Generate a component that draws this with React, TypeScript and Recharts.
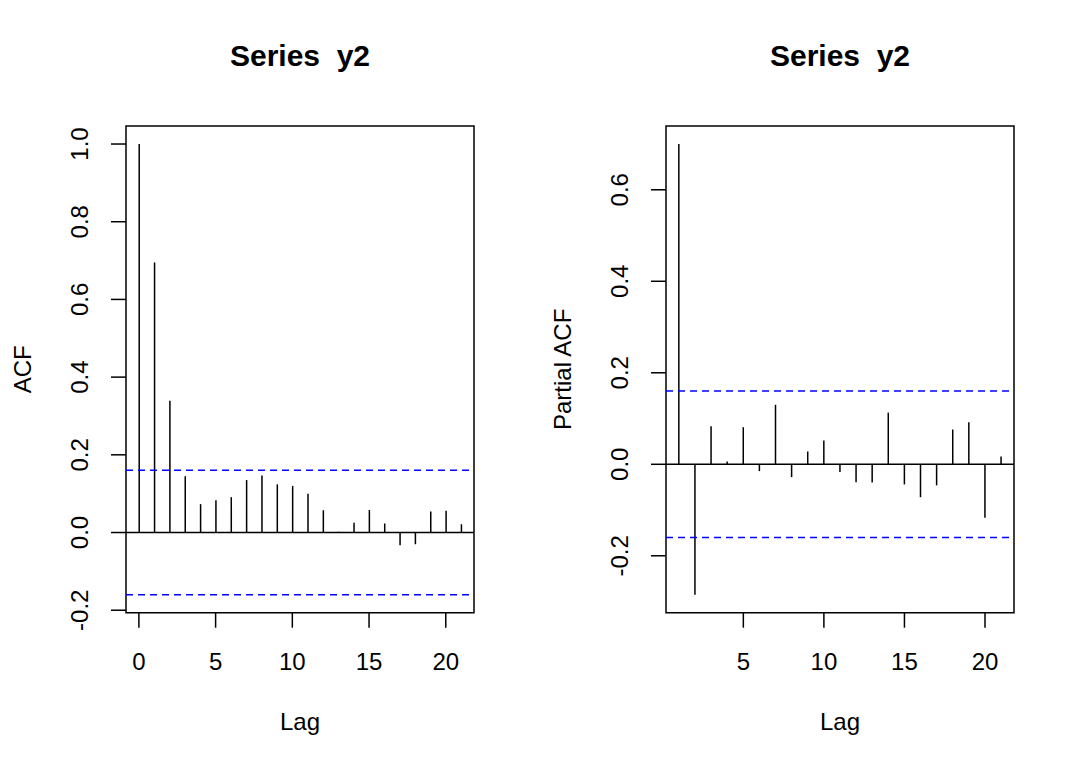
import React from 'react';
import {
  ComposedChart,
  Bar,
  XAxis,
  YAxis,
  ReferenceLine,
  ReferenceArea,
  Label,
} from 'recharts';

// ---------- data ----------
const ACF_LAGS = [0, 1, 2, 3, 4, 5, 6, 7, 8, 9, 10, 11, 12, 13, 14, 15, 16, 17, 18, 19, 20, 21];
const ACF_VALUES = [
  1.0, 0.695, 0.339, 0.145, 0.073, 0.083, 0.091, 0.135, 0.147, 0.124, 0.12, 0.1, 0.057, 0.002,
  0.025, 0.058, 0.023, -0.033, -0.03, 0.054, 0.056, 0.021,
];
const PACF_LAGS = [1, 2, 3, 4, 5, 6, 7, 8, 9, 10, 11, 12, 13, 14, 15, 16, 17, 18, 19, 20, 21];
const PACF_VALUES = [
  0.7, -0.285, 0.083, 0.006, 0.081, -0.015, 0.13, -0.028, 0.028, 0.052, -0.017, -0.039, -0.04,
  0.113, -0.044, -0.072, -0.046, 0.076, 0.092, -0.117, 0.017,
];
const CONF_LIMIT = 0.16;

const ACF_X_TICKS = [0, 5, 10, 15, 20];
const PACF_X_TICKS = [5, 10, 15, 20];
const ACF_Y_TICKS = [-0.2, 0, 0.2, 0.4, 0.6, 0.8, 1.0];
const PACF_Y_TICKS = [-0.2, 0, 0.2, 0.4, 0.6];

const TITLE = 'Series  y2';

// ---------- layout ----------
const FONT = '"Liberation Sans", Arial, Helvetica, sans-serif';
const W = 540;
const H = 771;
const PLOT_LEFT = 126;
const PLOT_TOP = 126;
const PLOT_RIGHT_MARGIN = 66;
const PLOT_BOTTOM = 612.7;
const XAXIS_H = 100;

// R-style axis extension (4% each side)
const extend = (lo: number, hi: number): [number, number] => {
  const r = hi - lo;
  return [lo - 0.04 * r, hi + 0.04 * r];
};

const fmtY = (v: number) => v.toFixed(1);

const YTick = (props: any) => {
  const { x, y, payload } = props;
  const bx = x - 22.5;
  return (
    <text
      x={bx}
      y={y}
      transform={`rotate(-90, ${bx}, ${y})`}
      textAnchor="middle"
      fontFamily={FONT}
      fontSize={24}
      fill="#000"
    >
      {fmtY(payload.value)}
    </text>
  );
};

const XTick = (props: any) => {
  const { x, y, payload } = props;
  return (
    <text x={x} y={y + 42.3} textAnchor="middle" fontFamily={FONT} fontSize={24} fill="#000">
      {String(payload.value)}
    </text>
  );
};

const StemShape = (props: any) => {
  const { x, y, width, height } = props;
  if (x == null || y == null) return null;
  const cx = x + width / 2;
  return <line x1={cx} x2={cx} y1={y} y2={y + height} stroke="#000" strokeWidth={1.5} />;
};

type PanelProps = {
  lags: number[];
  values: number[];
  xTicks: number[];
  yTicks: number[];
  yLabel: string;
  left: number;
};

const Panel = ({ lags, values, xTicks, yTicks, yLabel, left }: PanelProps) => {
  const data = lags.map((lag, i) => ({ lag, value: values[i] }));
  const xDomain = extend(Math.min(...lags), Math.max(...lags));
  const yDomain = extend(
    Math.min(...values, -CONF_LIMIT),
    Math.max(...values, CONF_LIMIT)
  );
  return (
    <div style={{ position: 'absolute', left, top: 0, width: W, height: H }}>
      <ComposedChart
        width={W}
        height={H}
        data={data}
        margin={{
          top: PLOT_TOP,
          right: PLOT_RIGHT_MARGIN,
          left: 0,
          bottom: H - PLOT_BOTTOM - XAXIS_H,
        }}
      >
        <XAxis
          dataKey="lag"
          type="number"
          domain={xDomain}
          allowDataOverflow
          ticks={xTicks}
          interval={0}
          height={XAXIS_H}
          axisLine={false}
          tickLine={{ stroke: '#000', strokeWidth: 1.5 }}
          tickSize={15}
          tickMargin={0}
          tick={<XTick />}
        >
          <Label
            content={(p: any) => {
              const vb = p.viewBox || {};
              return (
                <text
                  x={vb.x + vb.width / 2}
                  y={vb.y + 117}
                  textAnchor="middle"
                  fontFamily={FONT}
                  fontSize={24}
                  fill="#000"
                >
                  Lag
                </text>
              );
            }}
          />
        </XAxis>
        <YAxis
          type="number"
          domain={yDomain}
          allowDataOverflow
          ticks={yTicks}
          interval={0}
          width={PLOT_LEFT}
          axisLine={false}
          tickLine={{ stroke: '#000', strokeWidth: 1.5 }}
          tickSize={15}
          tickMargin={0}
          tick={<YTick />}
        >
          <Label
            content={(p: any) => {
              const vb = p.viewBox || {};
              const bx = vb.x + vb.width - 95;
              const cy = vb.y + vb.height / 2;
              return (
                <text
                  x={bx}
                  y={cy}
                  transform={`rotate(-90, ${bx}, ${cy})`}
                  textAnchor="middle"
                  fontFamily={FONT}
                  fontSize={24}
                  fill="#000"
                >
                  {yLabel}
                </text>
              );
            }}
          />
        </YAxis>
        <Bar dataKey="value" barSize={2} shape={<StemShape />} isAnimationActive={false} />
        <ReferenceLine y={0} stroke="#000" strokeWidth={1.5} />
        <ReferenceLine y={CONF_LIMIT} stroke="#0000FF" strokeWidth={1.5} strokeDasharray="7 5" />
        <ReferenceLine y={-CONF_LIMIT} stroke="#0000FF" strokeWidth={1.5} strokeDasharray="7 5" />
        <ReferenceArea
          x1={xDomain[0]}
          x2={xDomain[1]}
          y1={yDomain[0]}
          y2={yDomain[1]}
          fill="none"
          fillOpacity={0}
          stroke="#000"
          strokeWidth={1.5}
          ifOverflow="visible"
        />
      </ComposedChart>
      <div
        style={{
          position: 'absolute',
          left: PLOT_LEFT,
          width: W - PLOT_LEFT - PLOT_RIGHT_MARGIN,
          top: 41,
          fontFamily: FONT,
          fontWeight: 'bold',
          fontSize: 30,
          lineHeight: '30px',
          textAlign: 'center',
          color: '#000',
          whiteSpace: 'pre',
        }}
      >
        {TITLE}
      </div>
    </div>
  );
}

export default function App() {
  return (
    <div
      style={{
        position: 'absolute',
        left: 0,
        top: 0,
        width: 1080,
        height: H,
        background: '#fff',
        overflow: 'hidden',
      }}
    >
      <Panel
        lags={ACF_LAGS}
        values={ACF_VALUES}
        xTicks={ACF_X_TICKS}
        yTicks={ACF_Y_TICKS}
        yLabel="ACF"
        left={0}
      />
      <Panel
        lags={PACF_LAGS}
        values={PACF_VALUES}
        xTicks={PACF_X_TICKS}
        yTicks={PACF_Y_TICKS}
        yLabel="Partial ACF"
        left={540}
      />
    </div>
  );
}
